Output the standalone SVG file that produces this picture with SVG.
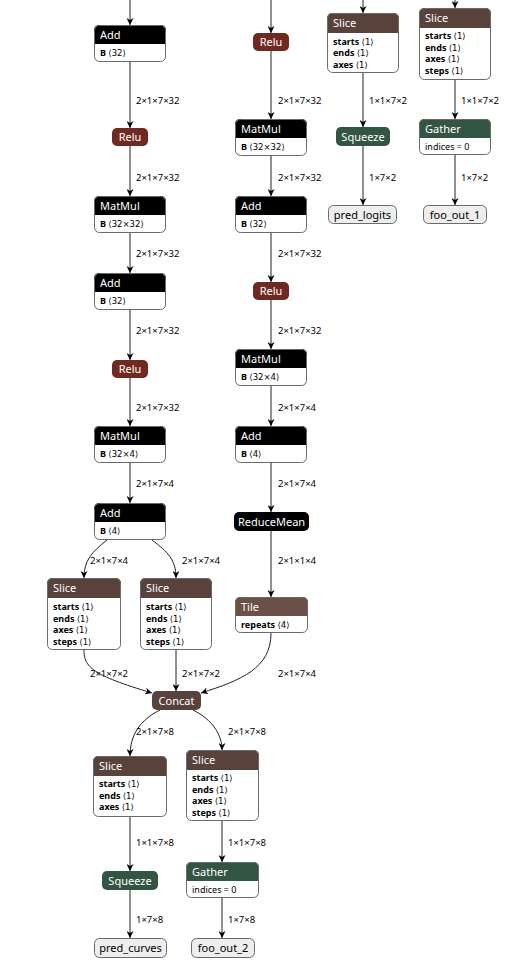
<svg xmlns="http://www.w3.org/2000/svg" width="520" height="965" viewBox="0 0 520 965">
<style>
text{font-family:"Noto Sans","DejaVu Sans",sans-serif}
.bd{fill:#fff;stroke:none}
.ol{fill:none;stroke:#6a6a6a;stroke-width:1}
.t{font-size:11px;fill:#fff}
.tc{font-size:11px;fill:#fff;text-anchor:middle}
.a{font-size:9px;fill:#000}
.n{font-weight:bold}
.v{font-family:"DejaVu Sans",sans-serif;font-size:8.5px}
.e{fill:none;stroke:#222;stroke-width:1;marker-end:url(#arr)}
.el{font-size:9.5px;fill:#000}
.io{fill:#eee;stroke:#6a6a6a;stroke-width:1}
.iot{font-size:11px;fill:#000;text-anchor:middle}
.k0{fill:#000}
.kr{fill:#702921}
.ks{fill:#59423b}
.kt{fill:#6c4f47}
.kg{fill:#335544}
</style>
<defs>
<marker id="arr" markerUnits="userSpaceOnUse" markerWidth="7" markerHeight="7" viewBox="0 0 10 10" refX="10" refY="5" orient="auto">
<path d="M0,0 L10,5 L0,10 L3,5 Z" fill="#000"/>
</marker>
</defs>

<g id="edges">
<path class="e" d="M130,0 V25"/>
<path class="e" d="M130,62 V128"/>
<path class="e" d="M130,146 V196"/>
<path class="e" d="M130,233 V273"/>
<path class="e" d="M130,310 V360"/>
<path class="e" d="M130,378 V426"/>
<path class="e" d="M130,463 V503"/>
<path class="e" d="M107,540 C92,552 84,560 84,578"/>
<path class="e" d="M152,540 C168,552 176,560 176,578"/>
<path class="e" d="M84,650 C84,667 92,675 152,693"/>
<path class="e" d="M176,650 V691"/>
<path class="e" d="M271,633 C271,668 242,680 201,693"/>
<path class="e" d="M160,710 C140,720 130,735 130,756"/>
<path class="e" d="M193,710 C213,720 222,735 222,750"/>
<path class="e" d="M130,817 V871"/>
<path class="e" d="M222,821 V862"/>
<path class="e" d="M130,890 V938"/>
<path class="e" d="M222,898 V938"/>
<path class="e" d="M271,0 V33"/>
<path class="e" d="M271,51 V119"/>
<path class="e" d="M271,156 V196"/>
<path class="e" d="M271,233 V282"/>
<path class="e" d="M271,300 V349"/>
<path class="e" d="M271,386 V426"/>
<path class="e" d="M271,463 V512"/>
<path class="e" d="M271,531 V597"/>
<path class="e" d="M363,0 V13"/>
<path class="e" d="M363,73 V127"/>
<path class="e" d="M363,146 V205"/>
<path class="e" d="M455,0 V8"/>
<path class="e" d="M455,80 V119"/>
<path class="e" d="M455,155 V205"/>
<text class="el" x="136" y="103.5">2×1×7×32</text>
<text class="el" x="136" y="180.5">2×1×7×32</text>
<text class="el" x="136" y="256.5">2×1×7×32</text>
<text class="el" x="136" y="333.5">2×1×7×32</text>
<text class="el" x="136" y="410.5">2×1×7×32</text>
<text class="el" x="136" y="486.5">2×1×7×4</text>
<text class="el" x="90" y="563.5">2×1×7×4</text>
<text class="el" x="182" y="563.5">2×1×7×4</text>
<text class="el" x="90" y="676.5">2×1×7×2</text>
<text class="el" x="182" y="676.5">2×1×7×2</text>
<text class="el" x="278" y="676.5">2×1×7×4</text>
<text class="el" x="136" y="734.5">2×1×7×8</text>
<text class="el" x="228" y="734.5">2×1×7×8</text>
<text class="el" x="136" y="845.5">1×1×7×8</text>
<text class="el" x="228" y="845.5">1×1×7×8</text>
<text class="el" x="136" y="922.5">1×7×8</text>
<text class="el" x="228" y="922.5">1×7×8</text>
<text class="el" x="278" y="103.5">2×1×7×32</text>
<text class="el" x="278" y="180.5">2×1×7×32</text>
<text class="el" x="278" y="256.5">2×1×7×32</text>
<text class="el" x="278" y="333.5">2×1×7×32</text>
<text class="el" x="278" y="410.5">2×1×7×4</text>
<text class="el" x="278" y="486.5">2×1×7×4</text>
<text class="el" x="278" y="563.5">2×1×1×4</text>
<text class="el" x="369" y="103.5">1×1×7×2</text>
<text class="el" x="369" y="180.5">1×7×2</text>
<text class="el" x="461" y="103.5">1×1×7×2</text>
<text class="el" x="461" y="180.5">1×7×2</text>
</g>

<!-- left column -->
<g id="add1">
<rect class="bd" x="94" y="25" width="72" height="37" rx="5"/>
<path class="k0" d="M94,44 V30 A5,5 0 0 1 99,25 H161 A5,5 0 0 1 166,30 V44 Z"/>
<rect class="ol" x="94.5" y="25.5" width="71" height="36" rx="5"/>
<text class="t" x="100" y="38.5">Add</text>
<text class="a" x="100" y="56"><tspan class="n">B</tspan> <tspan class="v">⟨32⟩</tspan></text>
</g>
<g id="relu1">
<rect class="kr" x="112" y="128" width="36" height="18" rx="5"/>
<text class="tc" x="130" y="141">Relu</text>
</g>
<g id="matmul1">
<rect class="bd" x="94" y="196" width="72" height="37" rx="5"/>
<path class="k0" d="M94,215 V201 A5,5 0 0 1 99,196 H161 A5,5 0 0 1 166,201 V215 Z"/>
<rect class="ol" x="94.5" y="196.5" width="71" height="36" rx="5"/>
<text class="t" x="100" y="209.5">MatMul</text>
<text class="a" x="100" y="227"><tspan class="n">B</tspan> <tspan class="v">⟨32×32⟩</tspan></text>
</g>
<g id="add2">
<rect class="bd" x="94" y="273" width="72" height="37" rx="5"/>
<path class="k0" d="M94,292 V278 A5,5 0 0 1 99,273 H161 A5,5 0 0 1 166,278 V292 Z"/>
<rect class="ol" x="94.5" y="273.5" width="71" height="36" rx="5"/>
<text class="t" x="100" y="286.5">Add</text>
<text class="a" x="100" y="304"><tspan class="n">B</tspan> <tspan class="v">⟨32⟩</tspan></text>
</g>
<g id="relu2">
<rect class="kr" x="112" y="360" width="36" height="18" rx="5"/>
<text class="tc" x="130" y="373">Relu</text>
</g>
<g id="matmul2">
<rect class="bd" x="94" y="426" width="72" height="37" rx="5"/>
<path class="k0" d="M94,445 V431 A5,5 0 0 1 99,426 H161 A5,5 0 0 1 166,431 V445 Z"/>
<rect class="ol" x="94.5" y="426.5" width="71" height="36" rx="5"/>
<text class="t" x="100" y="439.5">MatMul</text>
<text class="a" x="100" y="457"><tspan class="n">B</tspan> <tspan class="v">⟨32×4⟩</tspan></text>
</g>
<g id="add3">
<rect class="bd" x="94" y="503" width="72" height="37" rx="5"/>
<path class="k0" d="M94,522 V508 A5,5 0 0 1 99,503 H161 A5,5 0 0 1 166,508 V522 Z"/>
<rect class="ol" x="94.5" y="503.5" width="71" height="36" rx="5"/>
<text class="t" x="100" y="516.5">Add</text>
<text class="a" x="100" y="534"><tspan class="n">B</tspan> <tspan class="v">⟨4⟩</tspan></text>
</g>
<g id="sliceA">
<rect class="bd" x="47" y="578" width="74" height="72" rx="5"/>
<path class="ks" d="M47,598 V583 A5,5 0 0 1 52,578 H116 A5,5 0 0 1 121,583 V598 Z"/>
<rect class="ol" x="47.5" y="578.5" width="73" height="71" rx="5"/>
<text class="t" x="53" y="592">Slice</text>
<text class="a" x="53" y="610"><tspan class="n">starts</tspan> <tspan class="v">⟨1⟩</tspan></text>
<text class="a" x="53" y="621.5"><tspan class="n">ends</tspan> <tspan class="v">⟨1⟩</tspan></text>
<text class="a" x="53" y="633"><tspan class="n">axes</tspan> <tspan class="v">⟨1⟩</tspan></text>
<text class="a" x="53" y="644.5"><tspan class="n">steps</tspan> <tspan class="v">⟨1⟩</tspan></text>
</g>
<g id="sliceB">
<rect class="bd" x="140" y="578" width="72" height="72" rx="5"/>
<path class="ks" d="M140,598 V583 A5,5 0 0 1 145,578 H207 A5,5 0 0 1 212,583 V598 Z"/>
<rect class="ol" x="140.5" y="578.5" width="71" height="71" rx="5"/>
<text class="t" x="146" y="592">Slice</text>
<text class="a" x="146" y="610"><tspan class="n">starts</tspan> <tspan class="v">⟨1⟩</tspan></text>
<text class="a" x="146" y="621.5"><tspan class="n">ends</tspan> <tspan class="v">⟨1⟩</tspan></text>
<text class="a" x="146" y="633"><tspan class="n">axes</tspan> <tspan class="v">⟨1⟩</tspan></text>
<text class="a" x="146" y="644.5"><tspan class="n">steps</tspan> <tspan class="v">⟨1⟩</tspan></text>
</g>
<g id="concat">
<rect class="ks" x="152" y="691" width="49" height="19" rx="5"/>
<text class="tc" x="176.5" y="704.5">Concat</text>
</g>
<g id="sliceC">
<rect class="bd" x="93" y="756" width="74" height="61" rx="5"/>
<path class="ks" d="M93,776 V761 A5,5 0 0 1 98,756 H162 A5,5 0 0 1 167,761 V776 Z"/>
<rect class="ol" x="93.5" y="756.5" width="73" height="60" rx="5"/>
<text class="t" x="99" y="770">Slice</text>
<text class="a" x="99" y="787"><tspan class="n">starts</tspan> <tspan class="v">⟨1⟩</tspan></text>
<text class="a" x="99" y="798.5"><tspan class="n">ends</tspan> <tspan class="v">⟨1⟩</tspan></text>
<text class="a" x="99" y="810"><tspan class="n">axes</tspan> <tspan class="v">⟨1⟩</tspan></text>
</g>
<g id="sliceD">
<rect class="bd" x="186" y="750" width="73" height="71" rx="5"/>
<path class="ks" d="M186,770 V755 A5,5 0 0 1 191,750 H254 A5,5 0 0 1 259,755 V770 Z"/>
<rect class="ol" x="186.5" y="750.5" width="72" height="70" rx="5"/>
<text class="t" x="192" y="764">Slice</text>
<text class="a" x="192" y="781"><tspan class="n">starts</tspan> <tspan class="v">⟨1⟩</tspan></text>
<text class="a" x="192" y="792.5"><tspan class="n">ends</tspan> <tspan class="v">⟨1⟩</tspan></text>
<text class="a" x="192" y="804"><tspan class="n">axes</tspan> <tspan class="v">⟨1⟩</tspan></text>
<text class="a" x="192" y="815.5"><tspan class="n">steps</tspan> <tspan class="v">⟨1⟩</tspan></text>
</g>
<g id="squeeze2">
<rect class="kg" x="102" y="871" width="56" height="19" rx="5"/>
<text class="tc" x="130" y="884.5">Squeeze</text>
</g>
<g id="gather2">
<rect class="bd" x="186" y="862" width="73" height="36" rx="5"/>
<path class="kg" d="M186,881 V867 A5,5 0 0 1 191,862 H254 A5,5 0 0 1 259,867 V881 Z"/>
<rect class="ol" x="186.5" y="862.5" width="72" height="35" rx="5"/>
<text class="t" x="192" y="875.5">Gather</text>
<text class="a" x="192" y="893">indices = 0</text>
</g>
<g id="pred_curves">
<rect class="io" x="94.5" y="938.5" width="72" height="19" rx="5"/>
<text class="iot" x="130.5" y="952">pred_curves</text>
</g>
<g id="foo_out_2">
<rect class="io" x="191.5" y="938.5" width="63" height="19" rx="5"/>
<text class="iot" x="223" y="952">foo_out_2</text>
</g>

<!-- middle column -->
<g id="relu_m1">
<rect class="kr" x="253" y="33" width="36" height="18" rx="5"/>
<text class="tc" x="271" y="46">Relu</text>
</g>
<g id="matmul_m1">
<rect class="bd" x="235" y="119" width="72" height="37" rx="5"/>
<path class="k0" d="M235,138 V124 A5,5 0 0 1 240,119 H302 A5,5 0 0 1 307,124 V138 Z"/>
<rect class="ol" x="235.5" y="119.5" width="71" height="36" rx="5"/>
<text class="t" x="241" y="132.5">MatMul</text>
<text class="a" x="241" y="150"><tspan class="n">B</tspan> <tspan class="v">⟨32×32⟩</tspan></text>
</g>
<g id="add_m1">
<rect class="bd" x="235" y="196" width="72" height="37" rx="5"/>
<path class="k0" d="M235,215 V201 A5,5 0 0 1 240,196 H302 A5,5 0 0 1 307,201 V215 Z"/>
<rect class="ol" x="235.5" y="196.5" width="71" height="36" rx="5"/>
<text class="t" x="241" y="209.5">Add</text>
<text class="a" x="241" y="227"><tspan class="n">B</tspan> <tspan class="v">⟨32⟩</tspan></text>
</g>
<g id="relu_m2">
<rect class="kr" x="253" y="282" width="36" height="18" rx="5"/>
<text class="tc" x="271" y="295">Relu</text>
</g>
<g id="matmul_m2">
<rect class="bd" x="235" y="349" width="72" height="37" rx="5"/>
<path class="k0" d="M235,368 V354 A5,5 0 0 1 240,349 H302 A5,5 0 0 1 307,354 V368 Z"/>
<rect class="ol" x="235.5" y="349.5" width="71" height="36" rx="5"/>
<text class="t" x="241" y="362.5">MatMul</text>
<text class="a" x="241" y="380"><tspan class="n">B</tspan> <tspan class="v">⟨32×4⟩</tspan></text>
</g>
<g id="add_m2">
<rect class="bd" x="235" y="426" width="72" height="37" rx="5"/>
<path class="k0" d="M235,445 V431 A5,5 0 0 1 240,426 H302 A5,5 0 0 1 307,431 V445 Z"/>
<rect class="ol" x="235.5" y="426.5" width="71" height="36" rx="5"/>
<text class="t" x="241" y="439.5">Add</text>
<text class="a" x="241" y="457"><tspan class="n">B</tspan> <tspan class="v">⟨4⟩</tspan></text>
</g>
<g id="reducemean">
<rect class="k0" x="234" y="512" width="75" height="19" rx="5"/>
<text class="tc" x="271.5" y="525.5">ReduceMean</text>
</g>
<g id="tile">
<rect class="bd" x="235" y="597" width="73" height="36" rx="5"/>
<path class="kt" d="M235,616 V602 A5,5 0 0 1 240,597 H303 A5,5 0 0 1 308,602 V616 Z"/>
<rect class="ol" x="235.5" y="597.5" width="72" height="35" rx="5"/>
<text class="t" x="241" y="610.5">Tile</text>
<text class="a" x="241" y="628"><tspan class="n">repeats</tspan> <tspan class="v">⟨4⟩</tspan></text>
</g>

<!-- right columns -->
<g id="sliceR1">
<rect class="bd" x="327" y="13" width="72" height="60" rx="5"/>
<path class="ks" d="M327,33 V18 A5,5 0 0 1 332,13 H394 A5,5 0 0 1 399,18 V33 Z"/>
<rect class="ol" x="327.5" y="13.5" width="71" height="59" rx="5"/>
<text class="t" x="333" y="27">Slice</text>
<text class="a" x="333" y="44.5"><tspan class="n">starts</tspan> <tspan class="v">⟨1⟩</tspan></text>
<text class="a" x="333" y="56"><tspan class="n">ends</tspan> <tspan class="v">⟨1⟩</tspan></text>
<text class="a" x="333" y="67.5"><tspan class="n">axes</tspan> <tspan class="v">⟨1⟩</tspan></text>
</g>
<g id="squeeze1">
<rect class="kg" x="336" y="127" width="54" height="19" rx="5"/>
<text class="tc" x="363" y="140.5">Squeeze</text>
</g>
<g id="pred_logits">
<rect class="io" x="328.5" y="205.5" width="68" height="18" rx="5"/>
<text class="iot" x="362.5" y="218.5">pred_logits</text>
</g>
<g id="sliceR2">
<rect class="bd" x="419" y="8" width="72" height="72" rx="5"/>
<path class="ks" d="M419,28 V13 A5,5 0 0 1 424,8 H486 A5,5 0 0 1 491,13 V28 Z"/>
<rect class="ol" x="419.5" y="8.5" width="71" height="71" rx="5"/>
<text class="t" x="425" y="22">Slice</text>
<text class="a" x="425" y="39"><tspan class="n">starts</tspan> <tspan class="v">⟨1⟩</tspan></text>
<text class="a" x="425" y="50.5"><tspan class="n">ends</tspan> <tspan class="v">⟨1⟩</tspan></text>
<text class="a" x="425" y="62"><tspan class="n">axes</tspan> <tspan class="v">⟨1⟩</tspan></text>
<text class="a" x="425" y="73.5"><tspan class="n">steps</tspan> <tspan class="v">⟨1⟩</tspan></text>
</g>
<g id="gather1">
<rect class="bd" x="419" y="119" width="72" height="36" rx="5"/>
<path class="kg" d="M419,138 V124 A5,5 0 0 1 424,119 H486 A5,5 0 0 1 491,124 V138 Z"/>
<rect class="ol" x="419.5" y="119.5" width="71" height="35" rx="5"/>
<text class="t" x="425" y="132.5">Gather</text>
<text class="a" x="425" y="150">indices = 0</text>
</g>
<g id="foo_out_1">
<rect class="io" x="423.5" y="205.5" width="63" height="18" rx="5"/>
<text class="iot" x="455" y="218.5">foo_out_1</text>
</g>
</svg>
